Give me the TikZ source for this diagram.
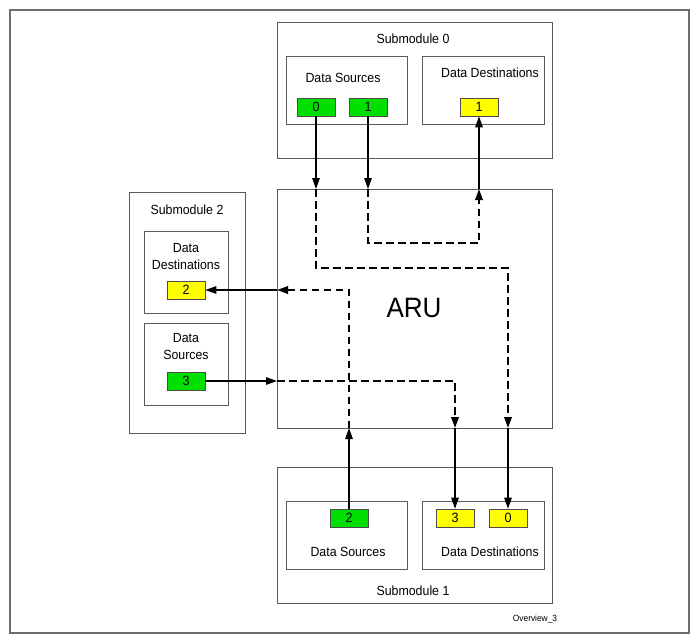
\documentclass[tikz,border=0pt]{standalone}
\usepackage{fontspec}
\setmainfont[FakeStretch=0.93]{Liberation Sans}
\usetikzlibrary{arrows.meta}
\definecolor{srcgreen}{HTML}{00E000}
\definecolor{dstyellow}{HTML}{FFFF00}
\definecolor{framegray}{HTML}{6E6E6E}
\definecolor{boxgray}{HTML}{5A5A5A}
\tikzset{
  container/.style={draw=boxgray, line width=0.9pt, fill=white, inner sep=0pt},
  srcbox/.style={draw=black!70, line width=0.6pt, fill=srcgreen, minimum width=38pt, minimum height=18pt, inner sep=0pt, font=\fontsize{13.5}{14}\selectfont},
  dstbox/.style={draw=black!70, line width=0.6pt, fill=dstyellow, minimum width=38pt, minimum height=18pt, inner sep=0pt, font=\fontsize{13.5}{14}\selectfont},
  lbl/.style={inner sep=0pt, font=\fontsize{13.3}{17}\selectfont, align=center},
  tip/.style={-{Triangle[length=11pt,width=7.5pt]}},
  solidarrow/.style={draw=black, line width=1.2pt, tip},
  dasharrow/.style={draw=black, line width=2pt, dash pattern=on 7.5pt off 4.5pt, tip},
}
\begin{document}
\begin{tikzpicture}[x=1pt,y=-1pt]
\useasboundingbox (0,0) rectangle (700,641);
\fill[white] (0,0) rectangle (700,641);
\draw[framegray, line width=2pt] (10,10) rectangle (689,633);

% Submodule 0
\node[container, minimum width=275pt, minimum height=136pt] (sub0) at (414.5,90) {};
\node[container, minimum width=121pt, minimum height=68pt] (s0ds) at (346.5,90) {};
\node[container, minimum width=122pt, minimum height=68pt] (s0dd) at (483,90) {};
\node[lbl] (s0t) at (413,39) {Submodule 0};
\node[lbl] (s0dst) at (343,78) {Data Sources};
\node[lbl] (s0ddt) at (490,73) {Data Destinations};
\node[srcbox] (g0) at (316,107) {0};
\node[srcbox] (g1) at (368,107) {1};
\node[dstbox] (y1) at (479,107) {1};

% ARU
\node[container, minimum width=275pt, minimum height=239pt] (aru) at (414.5,308.5) {};
\node[inner sep=0pt, font=\fontsize{28}{30}\selectfont] (arut) at (414,308) {ARU};

% Submodule 2
\node[container, minimum width=116pt, minimum height=241pt] (sub2) at (187,312.5) {};
\node[container, minimum width=84pt, minimum height=82pt] (s2dd) at (186,272) {};
\node[container, minimum width=84pt, minimum height=82pt] (s2ds) at (186,364) {};
\node[lbl] (s2t) at (187,210) {Submodule 2};
\node[lbl] (s2ddt) at (186,256.5) {Data\\Destinations};
\node[lbl] (s2dst) at (186,346.5) {Data\\Sources};
\node[dstbox] (y2) at (186,290) {2};
\node[srcbox] (g3) at (186,381) {3};

% Submodule 1
\node[container, minimum width=275pt, minimum height=136pt] (sub1) at (414.5,535) {};
\node[container, minimum width=121pt, minimum height=68pt] (s1ds) at (346.5,535) {};
\node[container, minimum width=122pt, minimum height=68pt] (s1dd) at (483,535) {};
\node[lbl] (s1t) at (413,591) {Submodule 1};
\node[lbl] (s1dst) at (348,552) {Data Sources};
\node[lbl] (s1ddt) at (490,552) {Data Destinations};
\node[srcbox] (g2) at (349,518) {2};
\node[dstbox] (y3) at (455,518) {3};
\node[dstbox] (y0) at (508,518) {0};

\node[inner sep=0pt, font=\fontsize{9}{10}\selectfont] (ovw) at (535,619) {Overview\_3};

% turn points
\coordinate (p0a) at (316,189);
\coordinate (p0b) at (316,268);
\coordinate (p0c) at (508,268);
\coordinate (p0d) at (508,428);
\coordinate (p1a) at (368,189);
\coordinate (p1b) at (368,243);
\coordinate (p1c) at (479,243);
\coordinate (p1d) at (479,189);
\coordinate (p2a) at (349,428);
\coordinate (p2b) at (349,290);
\coordinate (p2c) at (277,290);
\coordinate (p3a) at (277,381);
\coordinate (p3b) at (455,381);
\coordinate (p3c) at (455,428);

% Route 0: source 0 -> destination 0
\draw[solidarrow] (g0.south) -- (p0a);
\draw[dasharrow] (p0a) -- (p0b) -- (p0c) -- (p0d);
\draw[solidarrow] (p0d) -- (y0.north);
% Route 1: source 1 -> destination 1
\draw[solidarrow] (g1.south) -- (p1a);
\draw[dasharrow] (p1a) -- (p1b) -- (p1c) -- (p1d);
\draw[solidarrow] (p1d) -- (y1.south);
% Route 2: source 2 -> destination 2
\draw[solidarrow] (g2.north) -- (p2a);
\draw[dasharrow] (p2a) -- (p2b) -- (p2c);
\draw[solidarrow] (p2c) -- (y2.east);
% Route 3: source 3 -> destination 3
\draw[solidarrow] (g3.east) -- (p3a);
\draw[dasharrow] (p3a) -- (p3b) -- (p3c);
\draw[solidarrow] (p3c) -- (y3.north);
\end{tikzpicture}
\end{document}
